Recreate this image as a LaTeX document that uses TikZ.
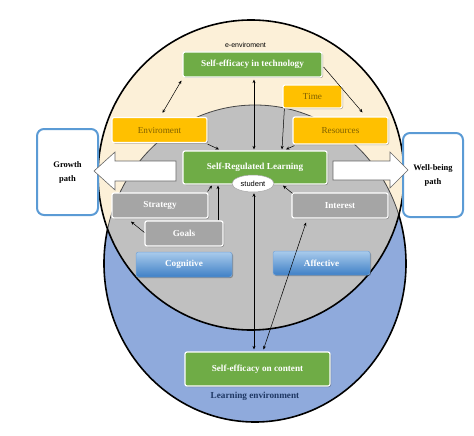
\documentclass[tikz,border=0pt]{standalone}
\usepackage{fontspec}
\setmainfont{Liberation Serif}
\setsansfont{Liberation Sans}
\usetikzlibrary{shapes.geometric,shadows,arrows.meta}
\definecolor{creamC}{HTML}{FCF0D8}
\definecolor{blueC}{HTML}{8FAADC}
\definecolor{lensC}{HTML}{C0C0C0}
\definecolor{greenC}{HTML}{6FAC46}
\definecolor{orangeC}{HTML}{FFC000}
\definecolor{oliveC}{HTML}{7F6000}
\definecolor{grayC}{HTML}{A5A5A5}
\definecolor{cogTop}{HTML}{A9CBEC}
\definecolor{cogBot}{HTML}{3F80C6}
\definecolor{pathC}{HTML}{5B9BD5}
\definecolor{navyC}{HTML}{1F3864}
\tikzset{
  box/.style={rectangle, rounded corners=2pt, draw=white, line width=1.2pt, inner sep=0pt,
    font=\fontsize{9.2}{10}\selectfont\bfseries,
    drop shadow={shadow xshift=1pt, shadow yshift=-1pt, opacity=0.3, fill=black}},
  greenbox/.style={box, fill=greenC, text=white},
  orangebox/.style={box, fill=orangeC, text=oliveC, font=\fontsize{9.2}{10}\selectfont},
  graybox/.style={box, fill=grayC, text=white},
  bluebox/.style={rectangle, rounded corners=2.5pt, draw=cogBot!70!white, line width=0.5pt, inner sep=0pt,
    top color=cogTop, bottom color=cogBot, text=white, font=\fontsize{9.2}{10}\selectfont\bfseries,
    drop shadow={shadow xshift=1pt, shadow yshift=-1pt, opacity=0.3, fill=black}},
  pathbox/.style={rectangle, rounded corners=7pt, draw=pathC, line width=2pt, fill=white, inner sep=0pt,
    align=center, font=\fontsize{8.5}{14}\selectfont\bfseries},
  conn/.style={line width=0.5pt, -{Stealth[length=3.5pt,width=3pt]}},
  dconn/.style={line width=0.5pt, {Stealth[length=3.5pt,width=3pt]}-{Stealth[length=3.5pt,width=3pt]}},
  blockarrow/.style={fill=white, draw=gray!80!black, line width=0.6pt, line join=miter}
}
\begin{document}
\begin{tikzpicture}[x=1pt,y=-1pt]
\useasboundingbox (0,0) rectangle (474,436);
% circles
\filldraw[fill=blueC, draw=black, line width=1.6pt] (255,263.5) ellipse [x radius=151pt, y radius=158.5pt];
\fill[creamC] (251,175) ellipse [x radius=153pt, y radius=155pt];
\begin{scope}
  \clip (251,175) ellipse [x radius=153pt, y radius=155pt];
  \filldraw[fill=lensC, draw=gray!55!black, line width=0.8pt] (255,263.5) ellipse [x radius=151pt, y radius=158.5pt];
\end{scope}
\draw[black, line width=1.6pt] (251,175) ellipse [x radius=153pt, y radius=155pt];

% labels
\node[font=\sffamily\fontsize{7}{8}\selectfont] (eenv) at (245.5,44.5) {e-enviroment};
\node[font=\fontsize{9.2}{10}\selectfont\bfseries, text=navyC] (lenv) at (255,396) {Learning environment};

% boxes
\node[greenbox, minimum width=139pt, minimum height=25pt] (tech) at (252.5,64.5) {Self-efficacy in technology};
\node[orangebox, minimum width=59pt, minimum height=23pt] (time) at (312.5,96.5) {Time};
\node[orangebox, minimum width=95pt, minimum height=25pt] (env) at (159.5,130) {Enviroment};
\node[orangebox, minimum width=95pt, minimum height=27pt] (res) at (340.5,130.5) {Resources};
\node[greenbox, minimum width=144pt, minimum height=33pt] (srl) at (255,167.5) {Self-Regulated Learning};
\node[ellipse, fill=white, draw=gray!70, line width=0.5pt, minimum width=42pt, minimum height=17pt, inner sep=0pt,
  font=\sffamily\fontsize{7.5}{8}\selectfont] (student) at (253,183.5) {student};
\node[graybox, minimum width=96pt, minimum height=25pt] (strategy) at (160,205.5) {Strategy};
\node[graybox, minimum width=78pt, minimum height=25pt] (goals) at (184,233.5) {Goals};
\node[bluebox, minimum width=96pt, minimum height=25pt] (cog) at (184,264.5) {Cognitive};
\node[graybox, minimum width=96pt, minimum height=25pt] (interest) at (340,205.5) {Interest};
\node[bluebox, minimum width=97pt, minimum height=24pt] (aff) at (321.5,263) {Affective};
\node[greenbox, minimum width=145pt, minimum height=34pt] (content) at (257.5,369) {Self-efficacy on content};
\node[pathbox, minimum width=61pt, minimum height=86pt] (growth) at (67.5,172) {Growth\\path};
\node[pathbox, minimum width=60pt, minimum height=84pt] (well) at (433,175) {Well-being\\path};

% block arrows
\draw[blockarrow] (176,161) -- (115,161) -- (115,152) -- (94,171) -- (115,190) -- (115,181) -- (176,181) -- cycle;
\draw[blockarrow] (333,161) -- (390,161) -- (390,152) -- (408,170) -- (390,188) -- (390,180) -- (333,180) -- cycle;

% connectors
\draw[dconn] ([xshift=-1pt,yshift=-3pt]tech.south west) -- ([xshift=3pt,yshift=4pt]env.north);
\draw[dconn] ([xshift=-1pt,yshift=-2pt]srl.north |- tech.south) -- ([xshift=-1pt,yshift=1pt]srl.north);
\draw[conn] ([xshift=1pt,yshift=-2.5pt]tech.east) -- ([xshift=22pt,yshift=4pt]res.north);
\draw[conn] ([xshift=2pt]time.south west) -- ([xshift=27pt,yshift=1pt]srl.north);
\draw[conn] ([xshift=2pt,yshift=-1pt]res.south west) -- ([xshift=31pt,yshift=1pt]srl.north);
\draw[conn] ([yshift=-1pt]env.south east) -- ([xshift=-36pt,yshift=1pt]srl.north);
\draw[conn] ([xshift=-1pt,yshift=1pt]strategy.north east) -- ([xshift=-43pt,yshift=-1pt]srl.south);
\draw[conn] ([xshift=-37pt]srl.south |- goals.north) -- ([xshift=-37pt,yshift=-1pt]srl.south);
\draw[conn] ([yshift=1pt]goals.west) -- ([xshift=-29pt,yshift=-3pt]strategy.south);
\draw[conn] ([xshift=1pt,yshift=-1pt]interest.north west) -- ([xshift=28pt,yshift=-1pt]srl.south);
\draw[dconn] ([xshift=1pt,yshift=-1pt]student.south) -- ([xshift=1pt,yshift=2pt]student.south |- content.north);
\draw[dconn] ([xshift=-34pt,yshift=-4pt]interest.south) -- ([xshift=6pt,yshift=2pt]content.north);
\end{tikzpicture}
\end{document}
